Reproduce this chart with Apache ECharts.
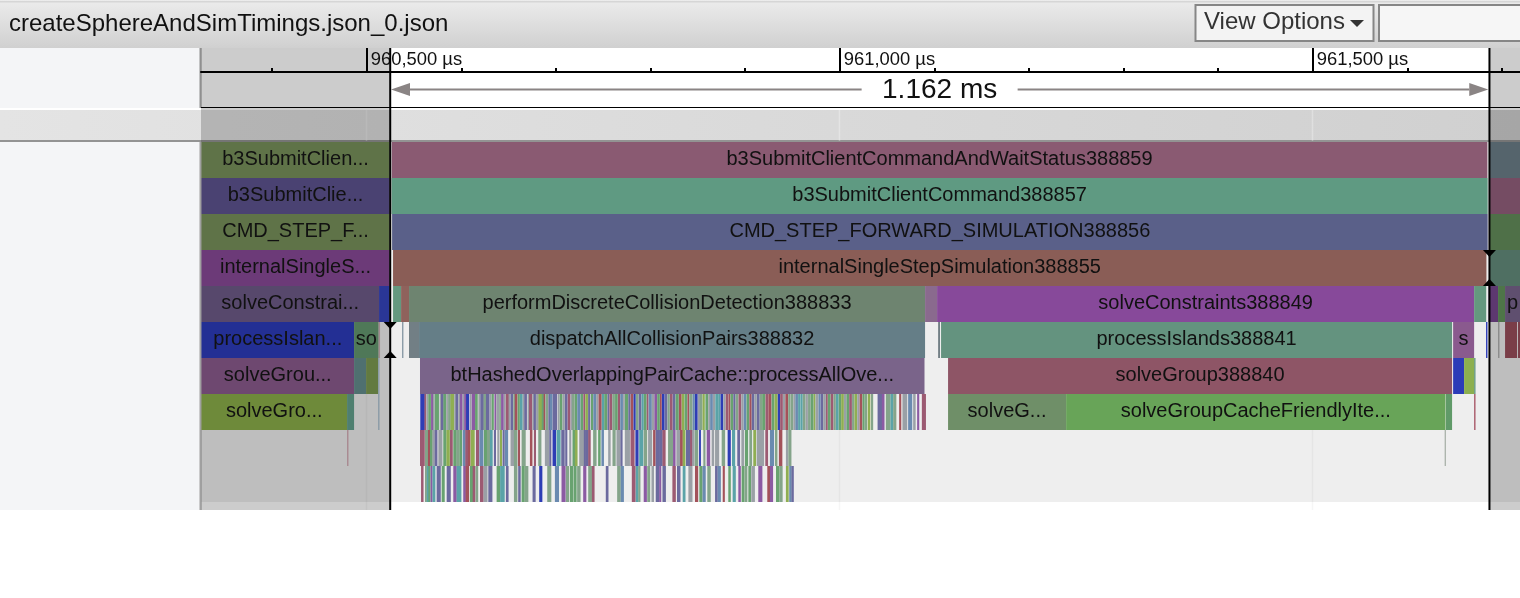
<!DOCTYPE html>
<html><head><meta charset="utf-8">
<style>html,body{margin:0;padding:0;background:#fff}#c{width:1520px;height:598px}</style>
<script src="https://cdn.jsdelivr.net/npm/echarts@6/dist/echarts.min.js"></script>
</head><body><div id="c"></div>
<script>
// All times are microseconds after timeOrigin.
const timeOrigin = 960000;
const viewStart = 324.8, viewEnd = 1719.1;
const selectionStart = 524.6, selectionEnd = 1686.6;
const selectionLabel = '1.162 ms';
const majorTicks = [500, 1000, 1500];
const minorTicks = [400, 600, 700, 800, 900, 1100, 1200, 1300, 1400, 1600, 1700];
const title = 'createSphereAndSimTimings.json_0.json';
const rowNames = ['r0','r1','r2','r3','r4','r5','r6','r7','r8','r9'];

// [start, end, name, hue]
const row0 = [[325.3,524.2,'b3SubmitClien...','a1'],[526.4,1684.6,'b3SubmitClientCommandAndWaitStatus388859','a2'],[1687.4,1719.1,'','a3']];
const row1 = [[325.3,524.2,'b3SubmitClie...','b1'],[526.2,1684.9,'b3SubmitClientCommand388857','b2'],[1687.4,1719.1,'','b3']];
const row2 = [[325.3,524.2,'CMD_STEP_F...','a1'],[526.8,1684.9,'CMD_STEP_FORWARD_SIMULATION388856','c2'],[1687.4,1719.1,'','c3']];
const row3 = [[325.3,524.2,'internalSingleS...','d1'],[527.8,1683.6,'internalSingleStepSimulation388855','d2'],[1687.4,1719.1,'','d3']];
const row4 = [[325.3,513,'solveConstrai...','e1'],[513,524.2,'','e2'],[527.8,536.3,'','e3'],[536.3,544.7,'','e4'],[544.7,1090.2,'performDiscreteCollisionDetection388833','e5'],[1090.2,1102.9,'','e6'],[1102.9,1670.6,'solveConstraints388849','e7'],[1670.6,1683.4,'','e3'],[1685.8,1695.9,'','e8'],[1695.9,1703.3,'','e9'],[1703.3,1719.1,'p','e10']];
const row5 = [[325.3,486.6,'processIslan...','f1'],[486.6,512.6,'so','f2'],[512.6,513.5,'','f3'],[537.3,538.2,'','f4'],[544.7,555.3,'','f5'],[555.3,1090.2,'dispatchAllCollisionPairs388832','f6'],[1104,1106,'','f5'],[1107.1,1647.3,'processIslands388841','f7'],[1648.4,1670.6,'s','f8'],[1683.2,1684.2,'','f9'],[1695.9,1697,'','f10'],[1703.3,1716,'','f11'],[1717,1719.1,'','f11']];
const row6 = [[325.3,486.6,'solveGrou...','g1'],[486.6,499.3,'','g2'],[499.3,512,'','g3'],[512,513,'','f4'],[556.3,1089.6,'btHashedOverlappingPairCache::processAllOve...','g4'],[1114.5,1647.3,'solveGroup388840','g5'],[1648.4,1660,'','g6'],[1660,1670.6,'','g7'],[1670.6,1671.6,'','e3']];
const row7 = [[325.3,479.2,'solveGro...','h1'],[479.2,486.6,'','h2'],[512,513,'','f4'],[1114.5,1239.3,'solveG...','h3'],[1239.3,1640.4,'solveGroupCacheFriendlyIte...','h4'],[1640.9,1647.3,'','h5'],[1670.6,1671.4,'','h6']];
const row8 = [[479.2,480.4,'','h7'],[1639.4,1640.9,'','h8']];
const row9 = [];

// Thin events: [start, duration, hue index]
const stripes7 = [[556.6,4,0],[561,1,6],[563,1,10],[565,2,1],[568,1.5,3],[570,1,10],[572,3.5,1],[577,1,10],[578.5,2,4],[581,2,1],[584,1,10],[586,2,8],[588.5,3,2],[592.5,1,10],[594,2,4],[597,1,10],[598.5,2,3],[601.5,1,10],[603,2,3],[605,2.5,0],[609,1,10],[611,3,3],[614.5,2,1],[618,1,10],[620,3,4],[623.5,2,8],[626,3,4],[630,1,10],[632,1.5,1],[635,1,3],[637,2,10],[640,1,8],
[642,2,3],[645,1,10],[647,2.5,6],[650,1,10],[652,2,4],[655,1,8],[656.5,2,9],[659.5,1.5,1],[662,2,5],[665,1,10],[666.5,2,4],[670,1,10],[671.5,2.5,6],[675,1,10],[676.5,1.5,4],[679,2,10],[681.5,3,2],[685,1.5,1],[687,1,9],[689,2,8],[692,1,4],[693.5,2,7],[696.5,2,4],[699,1.5,4],[702,1,10],[704,2,1],[707,1.5,10],[709.5,2,4],[712.5,2,6],[715.5,1,10],[717,2,8],[720,1.5,1],[722.5,2.5,7],[726,2,1],[729,1,6],[731,2,2],[734,1.5,4],[737,1.5,1],[739.5,2,7],[742.5,1.5,10],[745,2.5,9],[748.5,1.5,5],[751,2.5,1],[754.5,1,4],[756.5,2,6],[759.5,2,8],[762.5,2,1],[765.5,1.5,6],[768,2,7],[771,1,10],[773,2.5,1],[776.5,1.5,4],[779,2,9],[782,1.5,0],[784.5,2,8],[787.5,2,4],[790.5,1.5,5],[793,2,1],[796,1,6],[798,2.5,7],[801.5,1.5,10],[804,2,3],[807,2,1],[810,1,9],[812,2,0],[815,2,4],[818,1.5,8],[820.5,2,6],[823.5,2,4],[826.5,2.5,1],[830,2,9],
[833,2,2],[836,2,1],[839,1,9],[841,2.5,8],[844.5,1.5,7],[847,2,0],[850,1.5,10],[852,2,8],[855,1.5,2],[858,2,1],[861,1,10],[863,2,7],[866,1.5,10],[868.5,2,5],[871.5,1.5,5],[874,2,0],[877,1.5,10],[879.5,2,6],[882.5,1,9],[884.5,2,1],[887.5,1.5,4],[890,2,8],[893,2,6],[896,1.5,10],[898.5,2,7],[901.5,2,1],[904.5,1.5,9],[907,2,4],[910,1.5,10],[912.5,2,4],[915.5,1.5,8],[918,2.5,1],[921.5,2,6],[924.5,2.5,9],[928,2,1],[931,2.5,2],[934.5,1.5,0],[937,2,6],[940,1.5,10],[942.5,2,9],[945.5,1.5,8],[948,2,8],[951,1,10],[953,2,7],[956,1.5,5],[958.5,1.5,5],[961,2,8],[964,1.5,10],[966.5,2,8],[969.5,2,1],[972.5,1,2],[974.5,2,10],[977.5,1.5,7],[980,1.5,4],[982.5,2,10],[985.5,1,6],[987.5,2,1],[990.5,2,6],[993.5,1.5,8],[996,2,5],[999,1.5,1],[1001.5,2,2],[1004.5,1.5,10],[1007,2,1],[1010,2,6],[1013,1.5,8],[1015.5,2,2],[1018.5,1.5,10],[1021,2,9],[1024,1.5,1],[1026.5,1.5,8],[1029.5,2,2],[1033,1.5,8],
[1040,4,4],[1044.5,2,3],[1048.7,4.2,8],[1053.7,2,5],[1056.5,2.5,8],[1062.8,1.4,9],[1066.3,4.2,10],[1072.3,3.5,7],[1077.6,1.8,10],[1081.8,1.4,3],[1086.8,3.5,6]];

const stripes8 = [[556.3,4.2,6],[561.6,2.4,8],[564.7,1.4,9],[566.9,2,1],[569.5,1.6,10],[571.8,2.1,4],[575.7,3.5,10],[580.9,2.5,1],[584.2,2.8,2],[588,2.1,6],[591.5,2.5,1],[594.5,2.3,8],[597.8,2.1,1],[601.4,2.4,7],[604.2,2.2,6],[607,1.8,9],[609.8,3.5,2],[615.4,2.4,6],[619,3.5,7],[623.9,2.5,1],[627,2.5,8],[630.2,2.1,5],[634.4,1.4,4],[638,1.4,10],[640.8,1.4,2],[643.6,1.4,4],[646.1,2.5,7],[652,2.8,10],[655.6,2.8,8],[659.8,1.4,9],[663.7,3.5,8],[672.5,1.8,9],[676.7,1.4,6],[681.3,2.5,8],[688.3,3.5,10],[692.9,1.4,4],[696.4,2.8,0],[700.6,3.5,5],[705.6,2.8,4],[709.8,1.4,4],[714,1.4,10],[717.5,2,1],[720,2,2],[724.6,4.2,10],[729.5,1.4,4],[731.6,2.1,4],[734.1,1.8,6],[739.3,2.8,8],[744.6,1.8,1],[748.1,1.8,7],[755.2,1.8,10],[759.8,2.5,8],[764,3.5,10],[768.2,1.4,4],[772.8,4.6,10],[778.8,3.5,6],[784,2.5,0],[788,3.5,5],[792.8,2.8,8],[797.4,3.5,10],[802.7,1.8,9],[805.5,3,4],[809,3,4],[812.6,2.5,6],[818.5,4.5,8],[823.8,1.8,3],[827.3,3.5,10],
[831.2,2.1,9],[834,2.1,2],[837.5,4.2,4],[841.8,2,6],[844,1.6,10],[846.7,2.8,8],[851.3,1.1,0],[855.8,1.4,8],[859.4,2.8,3],[864.6,1.8,10],[868.2,3.5,10],[875.2,2.8,8],[881.5,2.5,0],[886.1,2.5,5],[891.7,2.1,4],[896,2.1,10],[899.8,2.5,1],[904.4,2.1,8],[908.6,2.1,2],[912.2,7,10],[921.3,2.1,6],[926.2,3.5,7],[931.5,1.8,8],[935.7,2.8,9],[943.1,1.4,10],[945.6,2.5,8]];

const stripes9 = [[557.4,1.8,6],[561.6,1.2,8],[563.5,1.5,5],[565.1,1.5,1],[567.5,1.2,3],[569.5,2.2,5],[573.9,3.5,4],[579.2,2.4,1],[584.5,3.5,4],[591.5,2.8,3],[595,4.2,5],[602,2,3],[604.5,2.8,9],[609,2.5,1],[612,2,6],[615,2,8],[619.7,3,6],[623.5,3.3,10],[628.5,3.5,4],[637.3,3,1],[641,4,5],[647.1,2,4],[655.6,2.8,8],[660.1,1.8,4],[663.7,2.5,1],[667,3,8],[675.3,2.4,4],[682.3,2.5,0],[690.8,3.5,8],[698.9,3.5,7],[705.9,3.5,3],[710.5,2.5,8],[714.7,2.5,1],[718.5,2.5,1],[722.4,2.8,8],[728.8,2.5,3],[734.1,3.5,8],[738,2,6],[752.7,2,4],[764.7,3,8],[768.5,2.5,7],[780.2,3.2,6],[784.4,2,5],[787,1.5,8],[792.8,2.5,3],[796.5,2.3,8],[801,1.8,10],[805.5,2.8,4],[809.1,1.4,3],[812.6,2.8,4],[823.1,2.8,6],[828,2.8,4],
[834,2.1,5],[840,3.5,10],[847,2.5,9],[851.6,2.5,1],[855,2.5,7],[860,2.8,8],[868.2,2,4],[871,2.5,7],[876.3,1.4,9],[882.2,1.8,1],[886.8,2.5,5],[892.8,1.8,3],[896.3,2.2,1],[899.5,2,8],[903.4,2,1],[906.5,3,10],[913.9,3.5,3],[923.4,2.1,9],[926.2,2.5,3],[932.6,3,1],[936.5,2.3,8],[943.1,2.1,2],[946.6,1.8,7],[949,1.6,4]];

const eventHues = {a1:'#5f7348',a2:'#8a5a72',a3:'#55646c',b1:'#4a4272',b2:'#5f9a82',b3:'#754c63',c2:'#5a6089',c3:'#4f7048',d1:'#6c3a78',d2:'#8a5d56',d3:'#4f6f62',
 e1:'#57486c',e2:'#2a3696',e3:'#64987f',e4:'#8f625c',e5:'#6e8470',e6:'#8a6a8e',e7:'#87499a',e8:'#5d3870',e9:'#4e7548',e10:'#5f4f6f',
 f1:'#232f94',f2:'#4f7858',f3:'#a08a8e',f4:'#8a9aa6',f5:'#727f85',f6:'#657e87',f7:'#64937f',f8:'#8a5a8e',f9:'#2d3db8',f10:'#8a8a8a',f11:'#7a3e48',
 g1:'#6e4870',g2:'#4f7070',g3:'#627a40',g4:'#7a648a',g5:'#8e5566',g6:'#2b3bb8',g7:'#8caf4f',
 h1:'#6e8a3a',h2:'#4f7f70',h3:'#6f8f68',h4:'#68a458',h5:'#609a68',h6:'#a85868',h7:'#a88890',h8:'#adb5ad'};
const stripeHues = ['#2e3db5','#68a270','#8fae52','#8b5aa3','#6b6a9e','#5aa3a8','#9c5a72','#6a8ab0','#84a48a','#a3525a','#9aa0a6'];

const rows = [row0,row1,row2,row3,row4,row5,row6,row7,row8,row9];
const events = [];
rows.forEach((r,i)=>r.forEach(e=>events.push({start:e[0],end:e[1],row:i,name:e[2],color:eventHues[e[3]],thin:false})));
[[7,stripes7],[8,stripes8],[9,stripes9]].forEach(([i,list])=>list.forEach(s=>events.push({start:s[0],end:s[0]+s[1],row:i,name:'',color:stripeHues[s[2]],thin:true})));

const FONT = '"Liberation Sans", Arial, sans-serif';
const chart = echarts.init(document.getElementById('c'), null, {renderer:'canvas'});

function renderEvent(params, api){
  const e = events[params.dataIndex];
  const a = api.coord([e.start, e.row]), b = api.coord([e.end, e.row]);
  const h = api.size([0,1])[1];
  const w = e.thin ? (b[0]-a[0])+0.8 : Math.max(b[0]-a[0],1.4);
  const kids = [{type:'rect',shape:{x:a[0],y:a[1]-h/2,width:w,height:h},style:{fill:e.color}}];
  if(e.name){
    kids.push({type:'text',style:{x:(a[0]+b[0])/2,y:a[1]-1,text:e.name,fill:'#111',font:'20px '+FONT,align:'center',verticalAlign:'middle'}});
  }
  return {type:'group',children:kids};
}
function renderShade(params, api){
  const a = api.coord([api.value(0),0])[0], b = api.coord([api.value(1),0])[0];
  return {type:'rect',shape:{x:a,y:48,width:b-a,height:462},style:{fill:'rgba(0,0,0,0.2)'}};
}
function renderGridline(params, api){
  const x = api.coord([api.value(0),0])[0];
  return {type:'group',children:[
    {type:'rect',shape:{x:x-1,y:108,width:1.5,height:33},style:{fill:'rgba(255,255,255,0.3)'}},
    {type:'rect',shape:{x:x-1,y:142,width:1.5,height:368},style:{fill:'rgba(0,0,0,0.035)'}}
  ]};
}
function renderSelection(params, api){
  const x = api.coord([api.value(0),0])[0];
  return {type:'rect',shape:{x:x-0.8,y:48,width:2,height:462},style:{fill:'#000'}};
}
function renderMarker(params, api){
  const p = api.coord([api.value(0),api.value(1)]);
  const h = api.size([0,1])[1];
  const t = p[1]-h/2, bt = p[1]+h/2, x = p[0]+0.2;
  return {type:'group',children:[
    {type:'polygon',shape:{points:[[x-6.5,t],[x+6.5,t],[x,t+7]]},style:{fill:'#000'}},
    {type:'polygon',shape:{points:[[x-6.5,bt],[x+6.5,bt],[x,bt-7]]},style:{fill:'#000'}}
  ]};
}
function renderArrow(params, api){
  const a = api.coord([api.value(0),0])[0], b = api.coord([api.value(1),0])[0];
  const y = 89.5, mid=(a+b)/2, col='#8a8484';
  return {type:'group',children:[
    {type:'polygon',shape:{points:[[a+1,y],[a+20,y-6.5],[a+20,y+6.5]]},style:{fill:col}},
    {type:'polygon',shape:{points:[[b-1,y],[b-20,y-6.5],[b-20,y+6.5]]},style:{fill:col}},
    {type:'rect',shape:{x:a+20,y:y-1,width:mid-78-a-20,height:2},style:{fill:col}},
    {type:'rect',shape:{x:mid+78,y:y-1,width:b-20-mid-78,height:2},style:{fill:col}},
    {type:'text',style:{x:mid,y:y+1,text:selectionLabel,fill:'#111',font:'28px '+FONT,align:'center',verticalAlign:'middle'}}
  ]};
}

chart.setOption({
  animation:false,
  grid:[{left:201,right:0,top:72,height:35},{left:201,right:0,top:142,height:360},{left:201,right:0,top:72,height:35}],
  xAxis:[
    {type:'value',gridIndex:0,position:'top',min:viewStart,max:viewEnd,z:8,
     axisLine:{show:true,onZero:false,lineStyle:{color:'#000',width:2}},
     axisTick:{show:true,length:24,customValues:majorTicks,lineStyle:{color:'#000',width:2}},
     axisLabel:{show:true,customValues:majorTicks,margin:3,align:'left',padding:[0,0,0,4],color:'#111',fontSize:18.4,fontFamily:FONT,hideOverlap:false,
       formatter:v=>(timeOrigin+v).toLocaleString('en-US')+' µs'},
     splitLine:{show:false}},
    {type:'value',gridIndex:2,position:'top',min:viewStart,max:viewEnd,z:8,
     axisLine:{show:false,onZero:false},
     axisTick:{show:true,length:4,customValues:minorTicks,lineStyle:{color:'#000',width:2}},
     axisLabel:{show:false},splitLine:{show:false}},
    {type:'value',min:viewStart,max:viewEnd,show:false,gridIndex:1}
  ],
  yAxis:[
    {type:'value',gridIndex:0,min:0,max:1,show:false},
    {type:'category',gridIndex:1,data:rowNames,inverse:true,show:false},
    {type:'value',gridIndex:2,min:0,max:1,show:false}
  ],
  graphic:{elements:[
    {type:'rect',z:-10,shape:{x:0,y:0,width:1520,height:48},style:{fill:new echarts.graphic.LinearGradient(0,0,0,1,[{offset:0,color:'#ececec'},{offset:1,color:'#d0d0d0'}])}},
    {type:'rect',z:-9,shape:{x:0,y:1,width:1520,height:1.5},style:{fill:'#d6d6d6'}},
    {type:'text',z:-8,style:{x:9,y:24,text:title,fill:'#111',font:'24px '+FONT,verticalAlign:'middle'}},
    {type:'rect',z:-8,shape:{x:1195.5,y:5,width:178,height:36},style:{fill:'#f3f3f3',stroke:'#868686',lineWidth:2}},
    {type:'text',z:-7,style:{x:1204,y:22.5,text:'View Options',fill:'#333',font:'24px '+FONT,verticalAlign:'middle'}},
    {type:'polygon',z:-7,shape:{points:[[1350,20],[1364,20],[1357,27]]},style:{fill:'#333'}},
    {type:'rect',z:-8,shape:{x:1379,y:5,width:160,height:36},style:{fill:'#f6f6f6',stroke:'#868686',lineWidth:2}},
    {type:'rect',z:-10,shape:{x:201,y:48,width:1319,height:60},style:{fill:'#fff'}},
    {type:'rect',z:-10,shape:{x:0,y:48,width:201,height:60},style:{fill:'#f4f5f7'}},
    {type:'rect',z:-10,shape:{x:0,y:108,width:1520,height:2},style:{fill:'#fff'}},
    {type:'rect',z:-10,shape:{x:0,y:110,width:1520,height:30},style:{fill:new echarts.graphic.LinearGradient(0,0,1,0,[{offset:0,color:'#e4e4e4'},{offset:1,color:'#d0d0d0'}])}},
    {type:'rect',z:-9,shape:{x:0,y:140,width:1520,height:2},style:{fill:'#939393'}},
    {type:'rect',z:-10,shape:{x:0,y:142,width:201,height:368},style:{fill:'#f4f5f7'}},
    {type:'rect',z:-10,shape:{x:201,y:142,width:1319,height:360},style:{fill:'#eeeeee'}},
    {type:'rect',z:-10,shape:{x:201,y:502,width:1319,height:8},style:{fill:'#fff'}},
    {type:'rect',z:-9,shape:{x:199.5,y:48,width:2,height:60},style:{fill:'#8f8f8f'}},
    {type:'rect',z:-9,shape:{x:199.5,y:142,width:2,height:368},style:{fill:'#a0a0a0'}},
    {type:'rect',z:7,shape:{x:201,y:107,width:1319,height:1},style:{fill:'#000'}}
  ]},
  series:[
    {type:'custom',name:'gridlines',xAxisIndex:2,yAxisIndex:1,z:1,silent:true,data:majorTicks.map(t=>[t]),renderItem:renderGridline},
    {type:'custom',name:'shade',xAxisIndex:2,yAxisIndex:1,z:2,silent:true,
     data:[[viewStart,selectionStart],[selectionEnd,viewEnd]],renderItem:renderShade},
    {type:'custom',name:'events',xAxisIndex:2,yAxisIndex:1,z:3,silent:true,progressive:0,
     data:events.map(e=>[e.start,e.end,e.row]),renderItem:renderEvent},
    {type:'custom',name:'arrow',xAxisIndex:2,yAxisIndex:1,z:6,silent:true,
     data:[[selectionStart,selectionEnd]],renderItem:renderArrow},
    {type:'custom',name:'selection',xAxisIndex:2,yAxisIndex:1,z:9,silent:true,
     data:[[selectionStart],[selectionEnd]],renderItem:renderSelection},
    {type:'custom',name:'markers',xAxisIndex:2,yAxisIndex:1,z:10,silent:true,
     data:[[selectionStart,5],[selectionEnd,3]],renderItem:renderMarker}
  ]
});
</script></body></html>
